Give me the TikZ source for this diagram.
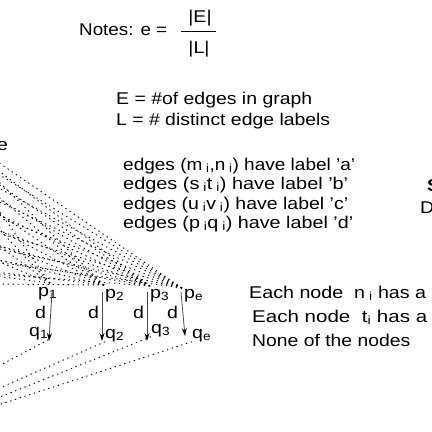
\documentclass[tikz,border=0pt]{standalone}
\usepackage{graphicx}
\usepackage{fontspec}
\setmainfont[FakeStretch=1.15]{Liberation Sans}
\usetikzlibrary{arrows.meta}
\newcommand{\fitw}[2]{\resizebox{#1}{\height}{#2}}
\begin{document}
\begin{tikzpicture}[x=1pt,y=-1pt,
  txt/.style={anchor=base west,inner sep=0pt,font=\fontsize{17}{20}\selectfont},
  ctxt/.style={anchor=base,inner sep=0pt,font=\fontsize{17}{20}\selectfont},
  gnode/.style={anchor=base west,inner sep=0pt,font=\fontsize{17}{20}\selectfont},
  dotline/.style={line width=0.9pt,dash pattern=on 1.3pt off 3.7pt},
  arr/.style={draw=gray!60!black,line width=0.8pt,-{Stealth[length=8pt,width=5pt,black]}}]
\useasboundingbox (0,0) rectangle (432,432);
\clip (0,0) rectangle (432,432);
% header
\node[txt] (notes) at (79,35) {\fitw{88pt}{Notes: e =}};
\node[ctxt] (enum) at (200,22) {|E|};
\node[ctxt] (lden) at (199,53) {|L|};
\coordinate (fl) at (181,31);
\coordinate (fr) at (216,31);
\draw[line width=0.8pt] (fl) -- (fr);
\node[txt] (edef) at (116,104) {\fitw{196pt}{E = \#of edges in graph}};
\node[txt] (ldef) at (116,125) {\fitw{214pt}{L = \# distinct edge labels}};
\node[txt] (ecut) at (-3,150) {e};
% edge list
\node[txt] (la) at (123,170) {\fitw{232pt}{edges (m\textsubscript{ i},n\textsubscript{ i}) have label 'a'}};
\node[txt] (lb) at (123,189) {\fitw{225pt}{edges (s\textsubscript{ i}t\textsubscript{ i}) have label 'b'}};
\node[txt] (lc) at (123,209) {\fitw{225pt}{edges (u\textsubscript{ i}v\textsubscript{ i}) have label 'c'}};
\node[txt] (ld) at (123,228) {\fitw{230pt}{edges (p\textsubscript{ i}q\textsubscript{ i}) have label 'd'}};
\node[txt,font=\fontsize{17}{20}\selectfont\bfseries] (scut) at (427,191) {S};
\node[txt] (dcut) at (420,213) {D};
% right notes
\node[txt] (na) at (249,298) {\fitw{177pt}{Each node\ \ n\textsubscript{ i} has a}};
\node[txt] (nb) at (252,322) {\fitw{175pt}{Each node\ \ t\textsubscript{i}\ has a}};
\node[txt] (nc) at (252,346) {\fitw{158pt}{None of the nodes}};
% graph nodes
\node[gnode] (p1) at (38,296) {p\textsubscript{1}};
\node[gnode] (p2) at (105,298) {p\textsubscript{2}};
\node[gnode] (p3) at (150,298) {p\textsubscript{3}};
\node[gnode] (pe) at (184,298) {p\textsubscript{e}};
\node[gnode] (q1) at (29,336) {q\textsubscript{1}};
\node[gnode] (q2) at (105,338) {q\textsubscript{2}};
\node[gnode] (q3) at (151,333) {q\textsubscript{3}};
\node[gnode] (qe) at (192,338) {q\textsubscript{e}};
\coordinate (a1s) at (52,292); \coordinate (a1e) at (49,341);
\coordinate (a2s) at (102,292); \coordinate (a2e) at (102,341);
\coordinate (a3s) at (147,292); \coordinate (a3e) at (147,341);
\coordinate (a4s) at (181,292); \coordinate (a4e) at (185,336);
\draw[arr] (a1s) -- (a1e);
\draw[arr] (a2s) -- (a2e);
\draw[arr] (a3s) -- (a3e);
\draw[arr] (a4s) -- (a4e);
\node[txt] (d1) at (35,318) {d};
\node[txt] (d2) at (88,318) {d};
\node[txt] (d3) at (133,318) {d};
\node[txt] (d4) at (167,318) {d};
% fan of dotted lines into p nodes
\coordinate (tpe) at (182,288);
\coordinate (tp3) at (150,286);
\coordinate (tp2) at (104,285);
\coordinate (tp1) at (50,283);
\foreach \y [count=\i] in {160,172,186,200,216,232,248,262} {
  \coordinate (fe\i) at (-5,\y);
  \draw[dotline] (tpe) -- (fe\i);
}
\foreach \y [count=\i] in {168,182,197,213,229,245,260,274} {
  \coordinate (f3\i) at (-5,\y);
  \draw[dotline] (tp3) -- (f3\i);
}
\foreach \y [count=\i] in {178,194,211,228,244,259,272,284} {
  \coordinate (f2\i) at (-5,\y);
  \draw[dotline] (tp2) -- (f2\i);
}
\foreach \y [count=\i] in {205,225,243,260,276} {
  \coordinate (f1\i) at (-5,\y);
  \draw[dotline] (tp1) -- (f1\i);
}
% dotted lines out of q nodes
\coordinate (g1) at (-5,368);
\coordinate (g2) at (-5,390);
\coordinate (g3) at (-5,399);
\coordinate (g4) at (-5,406);
\draw[dotline] (q1.south east) -- (g1);
\draw[dotline] (q2.south west) -- (g2);
\draw[dotline] (q3.south west) -- (g3);
\draw[dotline] (qe.south west) -- (g4);
\end{tikzpicture}
\end{document}
